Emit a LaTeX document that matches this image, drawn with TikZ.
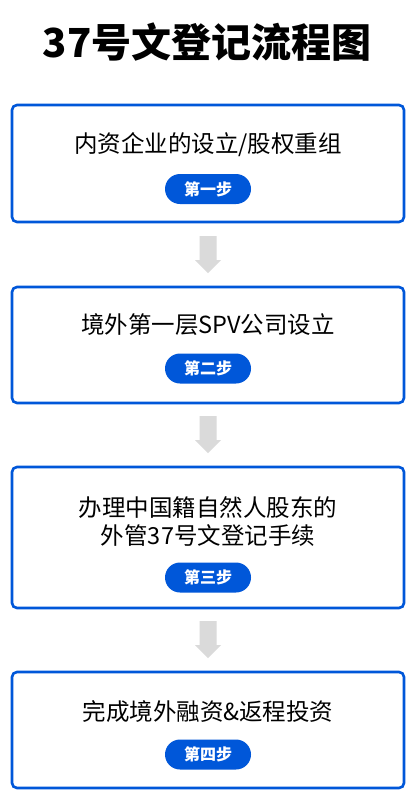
\documentclass[tikz,border=0pt]{standalone}
\usepackage{fontspec}
\setmainfont{Noto Sans CJK SC}
\definecolor{bblue}{HTML}{0057D9}
\definecolor{agray}{HTML}{DADADA}
\tikzset{
  stepbox/.style={draw=bblue, line width=2.6pt, rounded corners=5pt, fill=white},
  maintext/.style={font=\fontsize{23.5}{28}\selectfont, align=center, text=black, inner sep=0pt},
  pill/.style={fill=bblue, rounded corners=15pt, minimum width=86pt, minimum height=30pt, inner sep=0pt, text=white, font=\fontsize{16}{16}\selectfont\bfseries},
  flowarrow/.style={fill=agray, draw=none}
}
\begin{document}
\begin{tikzpicture}[x=1pt,y=-1pt]
\useasboundingbox (0,0) rectangle (414,795);
\fill[white] (0,0) rectangle (414,795);
\node[font=\fontsize{40}{40}\selectfont\bfseries, inner sep=0pt] (title) at (207,42) {37号文登记流程图};

% boxes
\draw[stepbox] (12,105) rectangle (404,222);
\node[maintext] (t1) at (208,145) {内资企业的设立/股权重组};
\node[pill] (p1) at (208,189) {第一步};

\draw[stepbox] (12,287) rectangle (404,403);
\node[maintext] (t2) at (208,325) {境外第一层SPV公司设立};
\node[pill] (p2) at (208,368.5) {第二步};

\draw[stepbox] (12,467) rectangle (404,608);
\node[maintext] (t3) at (208,521) {办理中国籍自然人股东的\\外管37号文登记手续};
\node[pill] (p3) at (208,577.5) {第三步};

\draw[stepbox] (12,672) rectangle (404,788);
\node[maintext] (t4) at (208,712) {完成境外融资\&返程投资};
\node[pill] (p4) at (208,754.5) {第四步};

% arrows
\foreach \y in {236,416,621}{
  \fill[flowarrow] (199.5,\y) -- (216.5,\y) -- (216.5,\y+24) -- (221,\y+24) -- (208,\y+37) -- (195,\y+24) -- (199.5,\y+24) -- cycle;
}
\end{tikzpicture}
\end{document}
